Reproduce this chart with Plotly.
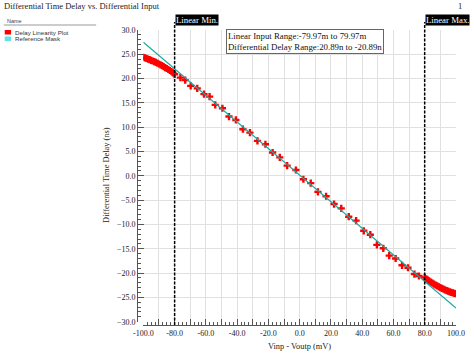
import plotly.graph_objects as go

# ---------------- data ----------------
delay_x_left = [-100, -99, -98, -97, -96, -95, -94, -93, -92, -91, -90,
                -89, -88, -87, -86, -85, -84, -83, -82, -81, -80]
delay_y_left = [24.40, 24.28, 24.15, 24.02, 23.89, 23.76, 23.62, 23.48, 23.33, 23.17, 23.01,
                22.84, 22.66, 22.47, 22.28, 22.08, 21.88, 21.67, 21.46, 21.18, 20.89]
delay_x_mid = [-76.3, -73.2, -69.7, -65.5, -61.2, -57.6, -54.0, -49.4, -45.2, -40.8,
               -36.3, -31.8, -27.0, -21.9, -17.3, -12.7, -8.0, -2.4, 2.4, 7.1,
               11.7, 16.9, 22.0, 26.6, 31.4, 36.1, 41.0, 45.2, 49.4, 53.5,
               57.3, 61.4, 65.5, 69.3, 73.4, 76.3]
delay_y_mid = [20.2, 19.7, 18.5, 18.0, 16.8, 16.3, 14.6, 13.9, 12.2, 11.5,
               9.6, 8.9, 7.2, 6.5, 4.8, 3.8, 2.1, 1.2, -0.7, -1.5,
               -3.3, -4.2, -5.8, -6.7, -8.4, -9.2, -11.3, -12.1, -14.2, -14.9,
               -16.4, -17.0, -18.4, -18.9, -20.2, -20.6]
delay_x_right = [80, 81, 82, 83, 84, 85, 86, 87, 88, 89, 90,
                 91, 92, 93, 94, 95, 96, 97, 98, 99, 100]
delay_y_right = [-20.89, -21.17, -21.44, -21.66, -21.87, -22.07, -22.27, -22.46, -22.64, -22.82, -22.99,
                 -23.15, -23.31, -23.46, -23.60, -23.73, -23.86, -23.98, -24.09, -24.18, -24.25]

mask_x = [-100, 100]
mask_y = [27.5, -27.2]

linear_min = -79.97
linear_max = 79.97

x_grid_vals = [-100, -90, -80, -70, -60, -50, -40, -30, -20, -10, 0,
               10, 20, 30, 40, 50, 60, 70, 80, 90, 100]
x_tick_labels = ["-100.0", "", "-80.0", "", "-60.0", "", "-40.0", "", "-20.0", "", "0.0",
                 "", "20.0", "", "40.0", "", "60.0", "", "80.0", "", "100.0"]

title_text = "Differential Time Delay vs. Differential Input"
x_title = "Vinp - Voutp (mV)"
y_title = "Differential Time Delay (ns)"
series_names = ["Delay Linearity Plot", "Reference Mask"]
info_text = "Linear Input Range:-79.97m to 79.97m<br>Differential Delay Range:20.89n to -20.89n"

# ---------------- layout helpers ----------------
W, H = 474, 355
L, R, T, B = 137, 9, 30, 30
PW, PH = W - L - R, H - T - B


def px(xp):
    return (xp - L) / PW


def py(yp):
    return 1 - (yp - T) / PH


SERIF = "Liberation Serif, Times New Roman, serif"
SANS = "Liberation Sans, Arial, sans-serif"

delay_x = delay_x_left + delay_x_mid + delay_x_right
delay_y = delay_y_left + delay_y_mid + delay_y_right

fig = go.Figure()
fig.add_trace(go.Scatter(
    x=delay_x, y=delay_y, mode="markers", name=series_names[0],
    marker=dict(symbol="cross", size=6, color="#ff0000", line=dict(width=0)),
))
fig.add_trace(go.Scatter(
    x=mask_x, y=mask_y, mode="lines", name=series_names[1],
    line=dict(color="#1aa9a1", width=1.3),
))

axis_common = dict(
    showline=True, linecolor="#555", linewidth=1,
    ticks="inside", tickcolor="#555", ticklen=6, tickwidth=1,
    showgrid=True, gridcolor="#e0e0e0", gridwidth=1,
    zeroline=False, anchor="free", position=0,
    tickfont=dict(family=SERIF, size=8, color="#222"),
)

fig.update_layout(
    width=W, height=H, autosize=False,
    margin=dict(l=L, r=R, t=T, b=B, pad=0),
    paper_bgcolor="white", plot_bgcolor="white",
    showlegend=False,
    xaxis=dict(
        range=[-100, 100], domain=[px(143.5), 1],
        tickmode="array", tickvals=x_grid_vals, ticktext=x_tick_labels,
        minor=dict(dtick=2.5, tick0=0, ticks="inside", ticklen=3, tickcolor="#555", showgrid=False),
        **axis_common,
    ),
    yaxis=dict(
        range=[-30, 30], domain=[1 - (321.7 - T) / PH, 1],
        tickmode="linear", tick0=0, dtick=5, tickformat=".1f",
        minor=dict(dtick=1, tick0=0, ticks="inside", ticklen=3, tickcolor="#555", showgrid=False),
        **axis_common,
    ),
)

shapes = []
for xv in (linear_min, linear_max):
    shapes.append(dict(type="line", xref="x", yref="paper", x0=xv, x1=xv,
                       y0=0, y1=py(22), line=dict(color="black", width=1.5, dash="3px,1.5px")))
# legend underline and swatches
shapes.append(dict(type="line", xref="paper", yref="paper", x0=px(0), x1=px(95),
                   y0=py(25), y1=py(25), line=dict(color="#999", width=1)))
shapes.append(dict(type="rect", xref="paper", yref="paper", x0=px(1), x1=px(7.5),
                   y0=py(34.5), y1=py(30), fillcolor="#ff0000", line=dict(width=0)))
shapes.append(dict(type="rect", xref="paper", yref="paper", x0=px(1), x1=px(7.5),
                   y0=py(41), y1=py(36.5), fillcolor="#5fe3e3", line=dict(width=0)))
fig.update_layout(shapes=shapes)

ann = []
ann.append(dict(text=title_text, xref="paper", yref="paper", x=px(-2), y=py(5.5),
                xanchor="left", yanchor="middle", showarrow=False,
                font=dict(family=SERIF, size=8.5, color="#222")))
ann.append(dict(text="1", xref="paper", yref="paper", x=px(473), y=py(5.5),
                xanchor="right", yanchor="middle", showarrow=False,
                font=dict(family=SERIF, size=8.5, color="#222")))
ann.append(dict(text="Name", xref="paper", yref="paper", x=px(1), y=py(21.5),
                xanchor="left", yanchor="middle", showarrow=False,
                font=dict(family=SANS, size=5.5, color="#444")))
ann.append(dict(text=series_names[0], xref="paper", yref="paper", x=px(9), y=py(32.3),
                xanchor="left", yanchor="middle", showarrow=False,
                font=dict(family=SANS, size=6.2, color="#333")))
ann.append(dict(text=series_names[1], xref="paper", yref="paper", x=px(9), y=py(38.8),
                xanchor="left", yanchor="middle", showarrow=False,
                font=dict(family=SANS, size=6.2, color="#333")))
ann.append(dict(text="Linear Min.", xref="x", yref="paper", x=linear_min, y=py(20),
                xanchor="left", yanchor="middle", showarrow=False, bgcolor="black",
                borderpad=0, font=dict(family=SERIF, size=8.8, color="white")))
ann.append(dict(text="Linear Max.", xref="x", yref="paper", x=linear_max, y=py(20),
                xanchor="left", yanchor="middle", showarrow=False, bgcolor="black",
                borderpad=0, font=dict(family=SERIF, size=8.8, color="white")))
ann.append(dict(text=info_text, xref="paper", yref="paper", x=px(228), y=py(29.5),
                xanchor="left", yanchor="top", align="left", showarrow=False,
                bgcolor="white", bordercolor="#666", borderwidth=1, borderpad=1,
                font=dict(family=SERIF, size=8.8, color="#111")))
ann.append(dict(text=x_title, xref="paper", yref="paper", x=px(304.4), y=py(346),
                xanchor="center", yanchor="middle", showarrow=False,
                font=dict(family=SERIF, size=8.4, color="#222")))
ann.append(dict(text=y_title, xref="paper", yref="paper", x=px(105), y=py(175),
                xanchor="center", yanchor="middle", textangle=-90, showarrow=False,
                font=dict(family=SERIF, size=8.4, color="#222")))
fig.update_layout(annotations=ann)

fig.write_html(
    "out.html",
    config={"displayModeBar": False, "responsive": False},
    post_script="document.body.style.margin='0';document.body.style.padding='0';"
                "document.documentElement.style.overflow='hidden';",
)
